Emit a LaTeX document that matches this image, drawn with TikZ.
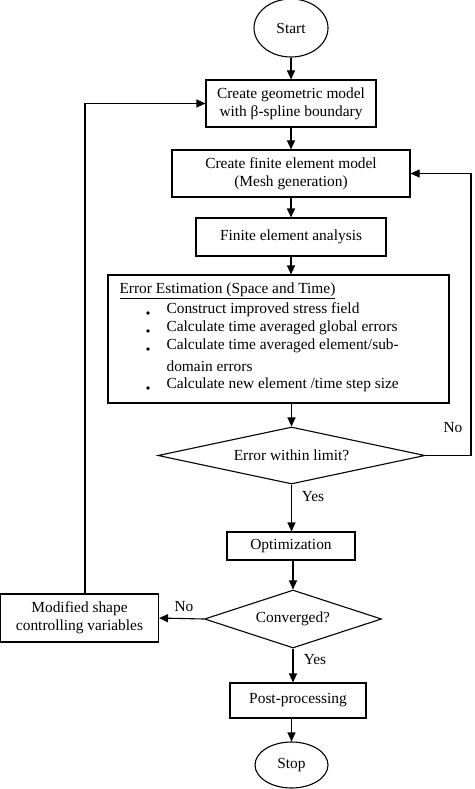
\documentclass[tikz,border=0pt]{standalone}
\usepackage{fontspec}
\setmainfont{Liberation Serif}
\usetikzlibrary{shapes.geometric,arrows.meta}
\begin{document}
\begin{tikzpicture}[x=1pt,y=-1pt,
  font=\fontsize{15.4}{18}\selectfont,
  line width=1.1pt,
  box/.style={draw, align=center, inner sep=0pt},
  term/.style={draw, ellipse, inner sep=0pt},
  dec/.style={draw, diamond, inner sep=0pt},
  arr/.style={-{Triangle[length=9pt,width=8pt]}},
  lbl/.style={inner sep=0pt},
  item/.style={anchor=west, inner sep=0pt}]
\useasboundingbox (0,0) rectangle (474,789);
% nodes
\node[term, minimum width=74pt, minimum height=58pt] (start) at (291,28) {Start};
\node[box, minimum width=170pt, minimum height=47pt] (b1) at (291,103.5) {Create geometric model\\with β-spline boundary};
\node[box, minimum width=238pt, minimum height=47pt] (b2) at (291,173.5) {Create finite element model\\(Mesh generation)};
\node[box, minimum width=190pt, minimum height=38pt] (b3) at (291,237) {Finite element analysis};
\node[box, minimum width=341pt, minimum height=128pt] (b4) at (278.5,339) {};
\node[dec, aspect=4.7, minimum width=267pt, minimum height=57pt] (d1) at (291.5,455.5) {Error within limit?};
\node[box, minimum width=128pt, minimum height=28pt] (opt) at (291,546) {Optimization};
\node[dec, aspect=3, minimum width=177pt, minimum height=58pt] (d2) at (293,619) {Converged?};
\node[box, minimum width=158pt, minimum height=48pt] (mod) at (79.5,618) {Modified shape\\controlling variables};
\node[box, minimum width=136pt, minimum height=35pt] (post) at (298,700.5) {Post-processing};
\node[term, minimum width=73pt, minimum height=46pt] (stop) at (291.5,765) {Stop};
% contents of error estimation box
\node[item] (t0) at (119,291) {\underline{Error Estimation (Space and Time)}};
\node[item] (t1) at (166,310) {Construct improved stress field};
\node[item] (t2) at (166,328) {Calculate time averaged global errors};
\node[item] (t3) at (166,346) {Calculate time averaged element/sub-};
\node[item] (t3b) at (166,366) {domain errors};
\node[item] (t4) at (166,385) {Calculate new element /time step size};
\foreach \yy in {313,331,349,388} \fill (148,\yy) circle (1.8pt);
% labels
\node[lbl] (no1) at (453,428) {No};
\node[lbl] (yes1) at (313,497) {Yes};
\node[lbl] (no2) at (184,607) {No};
\node[lbl] (yes2) at (315,660) {Yes};
% helper coordinates
\coordinate (rc) at (471,173.5);
\coordinate (lc) at (85,103.5);
% connectors
\draw[arr] (start) -- (b1);
\draw[arr] (b1) -- (b2);
\draw[arr] (b2) -- (b3);
\draw[arr] (b3.south) -- (b3.south |- b4.north);
\draw[arr] (d1.north |- b4.south) -- (d1.north);
\draw[arr] (d1.south) -- (d1.south |- opt.north);
\draw[arr] (opt.south) -- (opt.south -| d2.north) -- (d2.north);
\draw[arr] (d2.south) -- (d2.south |- post.north);
\draw[arr] (post.south -| stop.north) -- (stop.north);
\draw[arr] (d1.east) -| (rc) -- (b2.east);
\draw[arr] (d2.west) -- (mod.east);
\draw[arr] (mod.north -| lc) -- (lc) -- (b1.west);
\end{tikzpicture}
\end{document}
